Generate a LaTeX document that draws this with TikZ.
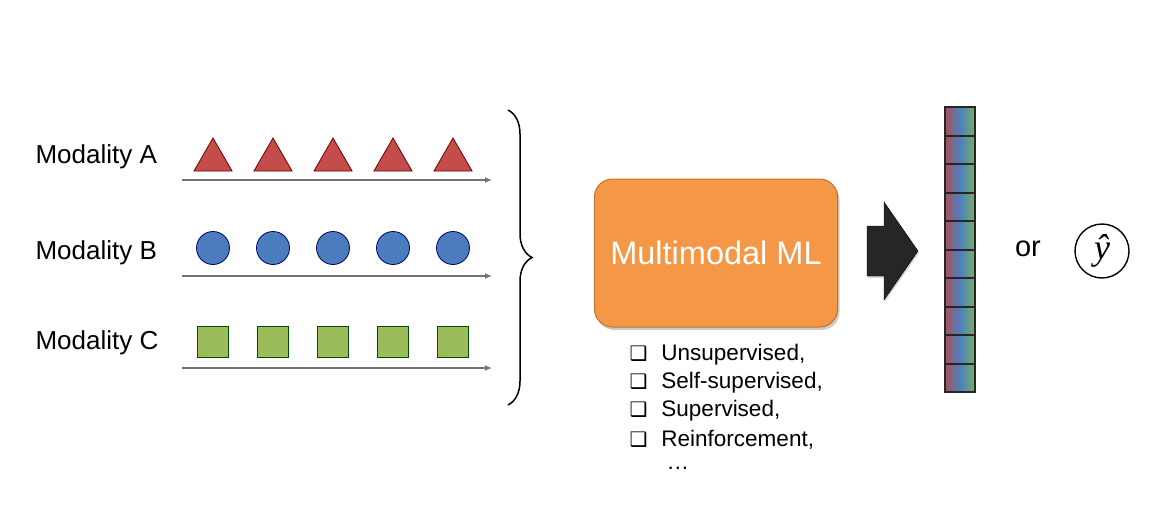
\documentclass[tikz,border=0pt]{standalone}
\usepackage{fontspec}
\setmainfont{Liberation Sans}
\newfontfamily\dejavu{DejaVu Sans}
\newfontfamily\lserif{Liberation Serif}
\usetikzlibrary{shapes.geometric,decorations.pathreplacing,shadows,arrows.meta}
\begin{document}
\begin{tikzpicture}[x=1pt,y=-1pt,
  lab/.style={anchor=west,font=\fontsize{26}{30}\selectfont},
  tl/.style={draw=gray!90!black,line width=1.3pt,-{Latex[length=7pt,width=6pt]}},
  tri/.style={regular polygon,regular polygon sides=3,draw=red!45!black,fill={rgb,255:red,196;green,76;blue,74},line width=0.8pt,minimum size=44pt,inner sep=0pt},
  circ/.style={circle,draw=blue!40!black,fill={rgb,255:red,75;green,125;blue,190},line width=0.8pt,minimum size=33pt,inner sep=0pt},
  sq/.style={rectangle,draw=green!30!black,fill={rgb,255:red,155;green,188;blue,90},line width=0.8pt,minimum size=31pt,inner sep=0pt},
  cell/.style={rectangle,draw=black!85,line width=1.8pt,minimum width=30pt,minimum height=28.5pt,inner sep=0pt,
    left color={rgb,255:red,170;green,80;blue,90},right color={rgb,255:red,120;green,175;blue,100},middle color={rgb,255:red,75;green,130;blue,190}},
  item/.style={anchor=west,font=\fontsize{22.5}{26}\selectfont}
]
\useasboundingbox (0,0) rectangle (1167,511);
\node[lab] (la) at (32,157) {Modality A};
\node[lab] (lb) at (32,253) {Modality B};
\node[lab] (lc) at (32,343) {Modality C};
\coordinate (a0) at (182,180); \coordinate (a1) at (492,180);
\coordinate (b0) at (182,276); \coordinate (b1) at (492,276);
\coordinate (c0) at (182,368); \coordinate (c1) at (492,368);
\draw[tl] (a0) -- (a1);
\draw[tl] (b0) -- (b1);
\draw[tl] (c0) -- (c1);
\foreach \x [count=\i] in {213,273,333,393,453}{
  \node[tri] (t\i) at (\x,160) {};
  \node[circ] (o\i) at (\x,248) {};
  \node[sq] (s\i) at (\x,342) {};
}
\coordinate (br0) at (508,110); \coordinate (br1) at (508,405);
\draw[line width=1.5pt,decorate,decoration={brace,amplitude=24pt,aspect=0.5}] (br0) -- (br1);
\node[draw={rgb,255:red,200;green,110;blue,40},line width=1pt,fill={rgb,255:red,244;green,152;blue,72},rounded corners=18pt,
  minimum width=243pt,minimum height=148pt,drop shadow={shadow xshift=2pt,shadow yshift=-3pt,opacity=0.4},
  text=white,font=\fontsize{32.5}{36}\selectfont] (ml) at (716,253) {Multimodal ML};
\foreach \t/\y [count=\i] in {{Unsupervised,}/355,{Self-supervised,}/383,{Supervised,}/411,{Reinforcement,}/440}{
  \node[item] (it\i) at (626,\y) {{\dejavu\fontsize{20}{24}\selectfont ❑}\hspace{14pt}\t};
}
\node[item] (dots) at (663,468) {\dots};
\draw[fill=black!85,draw=black,drop shadow={shadow xshift=1pt,shadow yshift=-2pt,opacity=0.3}]
  (867,226) -- (884,226) -- (884,202) -- (918,251) -- (884,300) -- (884,276) -- (867,276) -- cycle;
\foreach \i in {0,...,9}{
  \node[cell] (v\i) at (960,{121.5+28.5*\i}) {};
}
\node[font=\fontsize{29}{32}\selectfont] (or) at (1028,249) {or};
\node[circle,draw,line width=1.4pt,minimum size=54pt,inner sep=0pt,font=\lserif\itshape\fontsize{36}{40}\selectfont] (y) at (1102,251) {ŷ};
\end{tikzpicture}
\end{document}
